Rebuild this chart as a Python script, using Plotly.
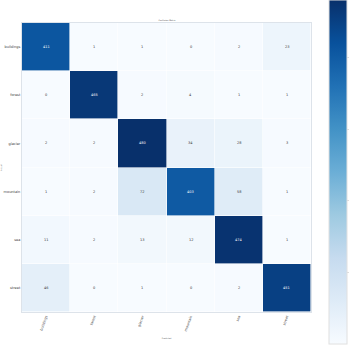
import plotly.graph_objects as go

classes = ["buildings", "forest", "glacier", "mountain", "sea", "street"]
row_buildings = [411, 1, 1, 0, 2, 23]
row_forest = [0, 465, 2, 4, 1, 1]
row_glacier = [2, 2, 480, 34, 28, 3]
row_mountain = [1, 2, 72, 403, 58, 1]
row_sea = [11, 2, 13, 12, 474, 1]
row_street = [46, 0, 1, 0, 2, 451]
z = [row_buildings, row_forest, row_glacier, row_mountain, row_sea, row_street]

blues = ["#f7fbff", "#deebf7", "#c6dbef", "#9ecae1", "#6baed6",
         "#4292c6", "#2171b5", "#08519c", "#08306b"]
cs = [[i / (len(blues) - 1), c] for i, c in enumerate(blues)]

W, H = 364, 364
L, R, T, B = 22, 53, 23, 52
ph = H - T - B

zmax = max(max(r) for r in z)
fig = go.Figure(go.Heatmap(
    z=z, x=classes, y=classes, colorscale=cs, zmin=0, zmax=zmax,
    xgap=0.6, ygap=0.6,
    colorbar=dict(thickness=18, lenmode="pixels", len=344,
                  x=1 + (329 - (W - R)) / (W - L - R), xanchor="left", xpad=0,
                  y=1 + T / ph, yanchor="top", ypad=0,
                  outlinewidth=1, outlinecolor="#e0e0e0",
                  ticks="outside", ticklen=2, tickcolor="#dddddd",
                  showticklabels=False, tickvals=[100, 200, 300, 400]),
))

annotations = []
for i, row in enumerate(z):
    for j, v in enumerate(row):
        annotations.append(dict(x=classes[j], y=classes[i], text=str(v), showarrow=False,
                                font=dict(size=3.5, color="white" if v > zmax / 2 else "#333333")))
fig.update_layout(
    width=W, height=H, margin=dict(l=L, r=R, t=T, b=B, autoexpand=False),
    paper_bgcolor="white", plot_bgcolor="white",
    annotations=annotations,
    title=dict(text="Confusion Matrix", font=dict(size=2, color="#444"), x=167 / W, xanchor="center",
               y=1 - 21 / H, yanchor="bottom", automargin=False),
    font=dict(family="DejaVu Sans"),
)
fig.update_xaxes(tickangle=-70, tickfont=dict(size=3.5, color="#444"), showgrid=False, ticks="",
                 automargin=False,
                 showline=True, linecolor="#dde3ea", mirror=True, linewidth=1,
                 title=dict(text="Predicted", font=dict(size=2, color="#666"), standoff=6))
fig.update_yaxes(autorange="reversed", tickfont=dict(size=3.5, color="#444"), showgrid=False, ticks="",
                 automargin=False,
                 showline=True, linecolor="#dde3ea", mirror=True, linewidth=1,
                 title=dict(text="Actual", font=dict(size=2, color="#666"), standoff=2))
fig.write_html("out.html")
